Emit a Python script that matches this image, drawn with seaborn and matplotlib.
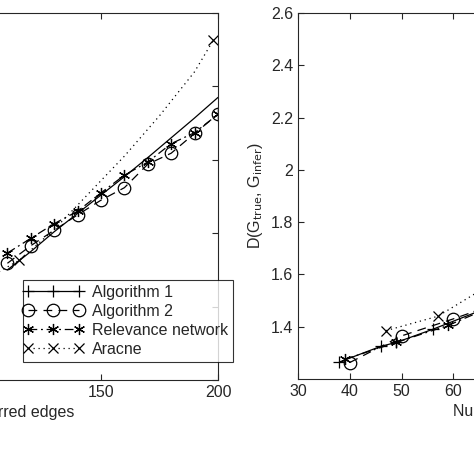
import matplotlib
matplotlib.use("Agg")
import matplotlib.pyplot as plt
import seaborn as sns

sns.set_style("ticks")
plt.rcParams['font.family'] = ['Liberation Sans', 'DejaVu Sans']

# Left panel (cropped)
L_x = [110, 120, 130, 140, 150, 160, 170, 180, 190, 200]
L_alg1 = [1.50, 1.75, 2.02, 2.27, 2.52, 2.77, 3.03, 3.30, 3.57, 3.85]
L_alg2 = [1.59, 1.83, 2.04, 2.25, 2.45, 2.62, 2.94, 3.09, 3.36, 3.62]
L_rel = [1.73, 1.93, 2.13, 2.30, 2.55, 2.79, 2.97, 3.22, 3.37, 3.62]
L_ar_x = [105, 115, 130, 145, 160, 175, 190, 198]
L_ar = [1.45, 1.63, 2.05, 2.55, 3.05, 3.60, 4.20, 4.63]

# Right panel (cropped)
R_x1 = [38, 46, 49, 56, 65, 75, 85]
R_alg1 = [1.265, 1.325, 1.34, 1.39, 1.46, 1.55, 1.66]
R_x2 = [40, 50, 60, 70, 80]
R_alg2 = [1.263, 1.365, 1.43, 1.50, 1.60]
R_x3 = [39, 49, 59, 69, 79]
R_rel = [1.275, 1.34, 1.405, 1.49, 1.59]
R_x4 = [47, 57, 67, 77]
R_ar = [1.385, 1.44, 1.56, 1.72]

fig = plt.figure(figsize=(4.74, 4.74), dpi=100)
W = 474.0
def pos(l, t, r, b):
    return [l / W, 1 - b / W, (r - l) / W, (b - t) / W]

axL = fig.add_axes(pos(-250, 13, 218, 380))
axR = fig.add_axes(pos(298, 13, 790, 379))

base = dict(color='k', linewidth=0.9, markerfacecolor='none', markeredgecolor='k', markeredgewidth=0.9)
ASTER = (6, 2, 0)

def draw(ax, data, me1, me4, legend):
    (x1, y1), (x2, y2), (x3, y3), (x4, y4) = data
    sns.lineplot(x=x1, y=y1, ax=ax, linestyle='-', marker='+', markersize=9, markevery=me1, label='Algorithm 1', **base)
    sns.lineplot(x=x2, y=y2, ax=ax, linestyle=(0, (7, 5)), marker='o', markersize=9, label='Algorithm 2', **base)
    sns.lineplot(x=x3, y=y3, ax=ax, linestyle=(0, (7, 3, 1.5, 3)), marker=ASTER, markersize=8, label='Relevance network', **base)
    sns.lineplot(x=x4, y=y4, ax=ax, linestyle=(0, (1, 3)), marker='x', markersize=7, markevery=me4, label='Aracne', **base)
    if not legend:
        ax.get_legend().remove()

draw(axL, [(L_x, L_alg1), (L_x, L_alg2), (L_x, L_rel), (L_ar_x, L_ar)], [], [1, 7], True)
draw(axR, [(R_x1, R_alg1), (R_x2, R_alg2), (R_x3, R_rel), (R_x4, R_ar)], None, None, False)

axL.set_xlim(0, 200)
axL.set_ylim(0, 5)
axL.set_xticks([0, 50, 100, 150, 200])
axL.set_yticks([0, 1, 2, 3, 4, 5])
axL.set_xlabel('Number of inferred edges', fontsize=11.5)
leg = axL.legend(loc='upper left', bbox_to_anchor=((23 + 250) / 468, (380 - 280) / 367),
                 fontsize=11.5, frameon=True, fancybox=False, edgecolor='k',
                 handlelength=3.2, borderpad=0.3, labelspacing=0.25, borderaxespad=0)
leg.get_frame().set_linewidth(0.8)
for h in leg.legend_handles:
    h.set_markevery(None)

axR.set_xlim(30, 125)
axR.set_ylim(1.2, 2.6)
axR.set_xticks([30, 40, 50, 60, 70, 80, 90, 100, 110, 120])
axR.set_yticks([1.4, 1.6, 1.8, 2.0, 2.2, 2.4, 2.6])
axR.set_yticklabels(['1.4', '1.6', '1.8', '2', '2.2', '2.4', '2.6'])
axR.set_xlabel('Number of inferred edges', fontsize=11.5)
axR.set_ylabel(r'D(G$_{\mathrm{true}}$, G$_{\mathrm{infer}}$)', fontsize=11.5)

for ax in (axL, axR):
    ax.tick_params(direction='in', top=True, right=True, labelsize=11.5, length=4)
    for s in ax.spines.values():
        s.set_visible(True)
        s.set_linewidth(0.8)

fig.savefig('out.png', dpi=100)
